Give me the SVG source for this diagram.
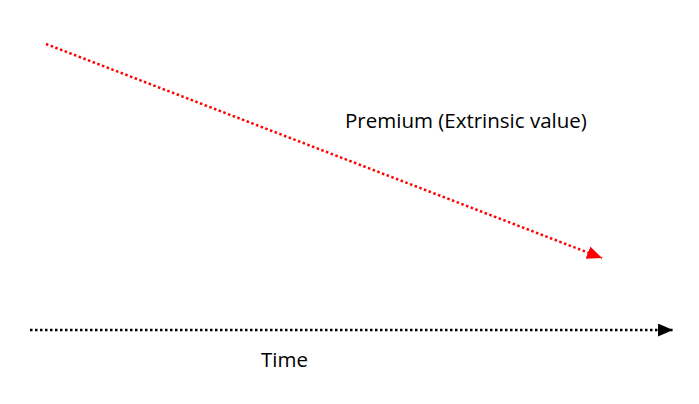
<svg xmlns="http://www.w3.org/2000/svg" width="699" height="404" viewBox="0 0 699 404">
<style>
.lbl{font-family:"Open Sans","Noto Sans","Liberation Sans",sans-serif;font-size:20.5px;fill:#000}
.red{stroke:#ff0000;stroke-width:2.5;stroke-dasharray:2.5 2.5;fill:none}
.blk{stroke:#000;stroke-width:2.5;stroke-dasharray:2.5 2.5;fill:none}
</style>
<defs>
<marker id="ar" viewBox="0 0 15 13" refX="15" refY="6.5" markerWidth="15" markerHeight="13" markerUnits="userSpaceOnUse" orient="auto"><path d="M0,0L15,6.5L0,13z" fill="#ff0000"/></marker>
<marker id="ab" viewBox="0 0 15 13" refX="15" refY="6.5" markerWidth="15" markerHeight="13" markerUnits="userSpaceOnUse" orient="auto"><path d="M0,0L15,6.5L0,13z" fill="#000"/></marker>
</defs>
<rect width="699" height="404" fill="#fff"/>
<g id="connectors">
<line class="red" x1="46" y1="44" x2="602" y2="258" marker-end="url(#ar)"/>
<line class="blk" x1="30" y1="330" x2="673" y2="330" marker-end="url(#ab)"/>
</g>
<g id="premium"><text class="lbl" x="345" y="128">Premium (Extrinsic value)</text></g>
<g id="time"><text class="lbl" x="261" y="367">Time</text></g>
</svg>
